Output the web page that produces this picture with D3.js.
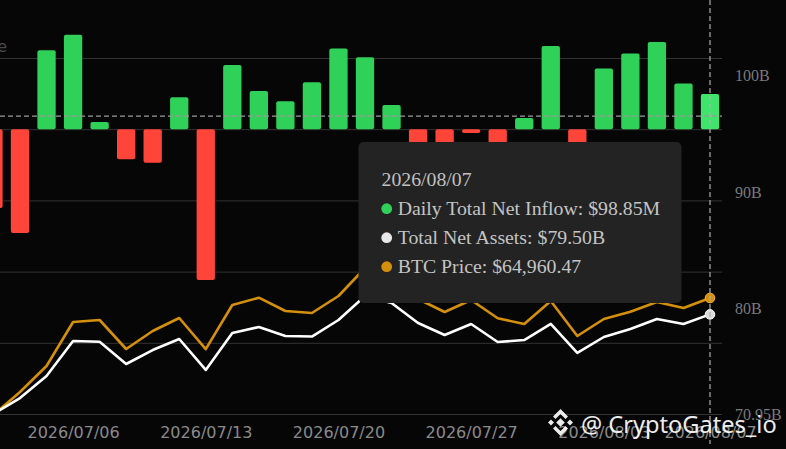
<!DOCTYPE html>
<html>
<head>
<meta charset="utf-8">
<script src="https://cdn.jsdelivr.net/npm/d3@7"></script>
<style>
html,body{margin:0;padding:0;background:#060606;overflow:hidden;}
svg{display:block;}
</style>
</head>
<body>
<svg id="chart" width="786" height="449"></svg>
<script>
// trading days shown (the first one is cut by the left edge)
var dates = ["2026/06/30","2026/07/01","2026/07/02","2026/07/06","2026/07/07","2026/07/08","2026/07/09",
  "2026/07/10","2026/07/13","2026/07/14","2026/07/15","2026/07/16","2026/07/17","2026/07/20","2026/07/21",
  "2026/07/22","2026/07/23","2026/07/24","2026/07/27","2026/07/28","2026/07/29","2026/07/30","2026/07/31",
  "2026/08/03","2026/08/04","2026/08/05","2026/08/06","2026/08/07"];
// daily total net inflow, million USD
var dailyInflow = [-221.6, -291.7, 221.6, 265.6, 20.5, -84.2, -94.4, 89.8, -423.6, 180.4, 107.5, 78.5, 131.8,
  226.4, 202.0, 68.2, -105, -72, -10.4, -146, 31.7, 233.7, -58, 170.3, 212.3, 244.9, 128.2, 98.85];
// total net assets, billion USD
var netAssets = [70.95, 72.32, 74.21, 77.22, 77.15, 75.24, 76.44, 77.39, 74.73, 77.90, 78.42, 77.65, 77.60,
  79.02, 81.08, 80.48, 78.76, 77.73, 78.68, 77.13, 77.30, 78.68, 76.19, 77.56, 78.25, 79.10, 78.68, 79.50];
// BTC price, USD
var btcPrice = [55020, 56970, 59180, 62920, 63090, 60625, 62155, 63260, 60610, 64365, 64985, 63855, 63685,
  65130, 67510, 66065, 64875, 63770, 64790, 63240, 62750, 64705, 61730, 63175, 63790, 64620, 64110, 64960.47];
var xTickLabels = ["2026/07/06","2026/07/13","2026/07/20","2026/07/27","2026/08/03","2026/08/07"];
var assetTicks = [70.95, 80, 90, 100];
var flowTicks = [-800, -600, -400, -200, 0, 200];
var hoverIndex = 27;

var plotTop = 58, plotBottom = 414, gridRight = 722;
var green = "#30d158", greenHi = "#3ee56a", red = "#ff453a", orange = "#d4900a";

var svg = d3.select("#chart");
svg.append("rect").attr("width", 786).attr("height", 449).attr("fill", "#060606");

var x = d3.scalePoint().domain(dates).range([-6.54, 710]);
var yFlow = d3.scaleLinear().domain([-800, 200]).range([plotBottom, plotTop]);
var yAssets = d3.scaleLinear().domain([70.95, 101.51]).range([plotBottom, plotTop]);
var yBtc = d3.scaleLinear().domain([55100, 85360]).range([plotBottom, plotTop]);

// grid lines from the flow axis
var grid = svg.append("g")
    .call(d3.axisLeft(yFlow).tickValues(flowTicks).tickSize(-gridRight).tickFormat(""));
grid.select(".domain").remove();
grid.selectAll("line").attr("stroke", "#333").attr("stroke-width", 1);

// left stub of a cut-off label
svg.append("text").attr("x", 7).attr("y", 52).attr("text-anchor", "end")
    .attr("font-family", "DejaVu Sans").attr("font-size", 16).attr("fill", "#4a4a4a").text("e");

// bars
var barW = 18.3;
svg.append("g").selectAll("rect")
    .data(dailyInflow)
    .join("rect")
    .attr("x", (d, i) => x(dates[i]) - barW / 2)
    .attr("y", d => Math.min(yFlow(d), yFlow(0)))
    .attr("width", barW)
    .attr("height", d => Math.abs(yFlow(d) - yFlow(0)))
    .attr("rx", 2)
    .attr("fill", (d, i) => d >= 0 ? (i == hoverIndex ? greenHi : green) : red);

// lines
var lineAssets = d3.line().x((d, i) => x(dates[i])).y(d => yAssets(d));
var lineBtc = d3.line().x((d, i) => x(dates[i])).y(d => yBtc(d));
svg.append("path").datum(btcPrice)
    .attr("fill", "none").attr("stroke", orange).attr("stroke-width", 2.6)
    .attr("stroke-linejoin", "round").attr("d", lineBtc);
svg.append("path").datum(netAssets)
    .attr("fill", "none").attr("stroke", "#ffffff").attr("stroke-width", 2.6)
    .attr("stroke-linejoin", "round").attr("d", lineAssets);

// hover markers
var hx = x(dates[hoverIndex]);
svg.append("circle").attr("cx", hx).attr("cy", yBtc(btcPrice[hoverIndex])).attr("r", 4.8)
    .attr("fill", orange).attr("stroke", "#f0b040").attr("stroke-width", 1);
svg.append("circle").attr("cx", hx).attr("cy", yAssets(netAssets[hoverIndex])).attr("r", 4.8)
    .attr("fill", "#dcdcdc").attr("stroke", "#ffffff").attr("stroke-width", 1);

// crosshair
svg.append("line").attr("x1", 0).attr("x2", gridRight)
    .attr("y1", yFlow(37)).attr("y2", yFlow(37))
    .attr("stroke", "#9a9a9a").attr("stroke-width", 1.2).attr("stroke-dasharray", "5,3");
svg.append("line").attr("x1", hx).attr("x2", hx).attr("y1", 0).attr("y2", plotBottom + 30)
    .attr("stroke", "#b0b0b0").attr("stroke-width", 1.2).attr("stroke-dasharray", "5,3");

// right axis (total net assets)
var fmtB = d => (d % 1 ? d3.format(".2f")(d) : d) + "B";
var ra = svg.append("g").attr("transform", "translate(727,0)")
    .call(d3.axisRight(yAssets).tickValues(assetTicks).tickSize(0).tickPadding(8).tickFormat(fmtB));
ra.select(".domain").remove();
ra.selectAll("text").attr("font-family", "Liberation Serif").attr("font-size", 16).attr("fill", "#7a7a7a");

// bottom axis
var ba = svg.append("g").attr("transform", "translate(0," + plotBottom + ")")
    .call(d3.axisBottom(x).tickValues(xTickLabels).tickSize(0).tickPadding(12.6));
ba.select(".domain").remove();
ba.selectAll("text").attr("font-family", "DejaVu Sans").attr("font-size", 16).attr("fill", "#8a8a8a");

// tooltip
var tip = svg.append("g").attr("transform", "translate(358.5,142)");
tip.append("rect").attr("width", 323).attr("height", 161).attr("rx", 5).attr("fill", "#232323");
var tipFont = "Liberation Serif", tipSize = 19.8;
tip.append("text").attr("x", 23).attr("y", 44).attr("font-family", tipFont).attr("font-size", tipSize)
    .attr("fill", "#c0c0c0").text(dates[hoverIndex]);
var tipRows = [
  {c: green, t: "Daily Total Net Inflow: $" + d3.format(".2f")(dailyInflow[hoverIndex]) + "M"},
  {c: "#e8e8e8", t: "Total Net Assets: $" + d3.format(".2f")(netAssets[hoverIndex]) + "B"},
  {c: orange, t: "BTC Price: $" + d3.format(",.2f")(btcPrice[hoverIndex])}
];
var rows = tip.selectAll("g.row").data(tipRows).join("g").attr("class", "row")
    .attr("transform", (d, i) => "translate(0," + (73 + i * 29) + ")");
rows.append("circle").attr("cx", 28.2).attr("cy", -6.3).attr("r", 5.4).attr("fill", d => d.c);
rows.append("text").attr("x", 39.2).attr("y", 0).attr("font-family", tipFont).attr("font-size", tipSize)
    .attr("fill", "#c4c4c4").text(d => d.t);

// watermark
var wm = svg.append("g").attr("fill", "#ffffff").attr("opacity", 0.92);
var lg = wm.append("g").attr("transform", "translate(560.5,422.5)");
lg.append("path").attr("d", "M0,-4.3L4.3,0L0,4.3L-4.3,0Z");
lg.append("path").attr("d", "M-9.5,-3L-6.5,0L-9.5,3L-12.5,0Z");
lg.append("path").attr("d", "M9.5,-3L12.5,0L9.5,3L6.5,0Z");
lg.append("path").attr("d", "M0,-13.5L7.5,-6L5,-3.5L0,-8.5L-5,-3.5L-7.5,-6Z");
lg.append("path").attr("d", "M0,13.5L7.5,6L5,3.5L0,8.5L-5,3.5L-7.5,6Z");
wm.append("text").attr("x", 581).attr("y", 433).attr("font-family", "Noto Sans")
    .attr("font-size", 23.6).text("@ CryptoGates_io");
</script>
</body>
</html>
